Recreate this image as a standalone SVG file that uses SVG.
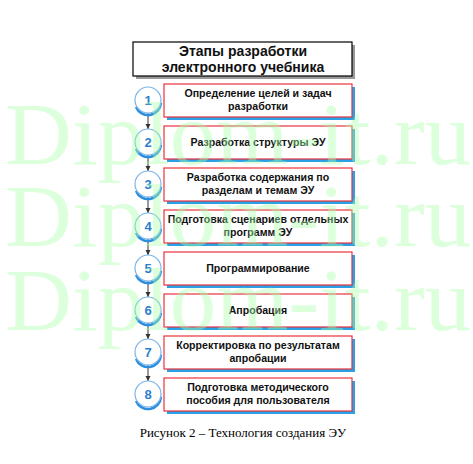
<svg xmlns="http://www.w3.org/2000/svg" width="473" height="464" viewBox="0 0 473 464">
<defs>
<marker id="arr" markerWidth="6" markerHeight="6" refX="5" refY="3" orient="auto" markerUnits="userSpaceOnUse">
<path d="M0,0.5 L5,3 L0,5.5 z" fill="#333"/>
</marker>
</defs>
<style>
.box{fill:#fff;stroke:#e8323c;stroke-width:1.2}
.sh{fill:#2aa0e6}
.tbox{fill:#fff;stroke:#000;stroke-width:1.2}
.tsh{fill:#999}
.circ{fill:#fff;stroke:#7ab4ea;stroke-width:1.2}
.arc{fill:none;stroke:#2b8fe0;stroke-width:2.5}
.num{font-family:"Liberation Sans",Arial,sans-serif;font-weight:bold;font-size:13px;fill:#2b7fcf;text-anchor:middle}
.lbl{font-family:"Liberation Sans",Arial,sans-serif;font-weight:bold;font-size:10.6px;fill:#111;text-anchor:middle}
.ttl{font-family:"Liberation Sans",Arial,sans-serif;font-weight:bold;font-size:14px;fill:#111;text-anchor:middle}
.cap{font-family:"Liberation Serif","Times New Roman",serif;font-size:13px;fill:#000;text-anchor:middle}
.wm{font-family:"Liberation Serif","Times New Roman",serif;font-size:88px;fill:#aaffaa;opacity:0.4}
.con{stroke:#333;stroke-width:1;fill:none}
</style>
<rect width="473" height="464" fill="#fff"/>
<g id="title">
<rect class="tsh" x="136" y="45" width="219" height="34"/>
<rect class="tbox" x="133" y="42" width="219" height="34"/>
<text class="ttl" x="243" y="56">Этапы разработки</text>
<text class="ttl" x="243" y="72">электронного учебника</text>
</g>
<g id="connectors">
<line class="con" x1="148" y1="113" x2="148" y2="129" marker-end="url(#arr)"/>
<line class="con" x1="148" y1="155" x2="148" y2="171" marker-end="url(#arr)"/>
<line class="con" x1="148" y1="197" x2="148" y2="213" marker-end="url(#arr)"/>
<line class="con" x1="148" y1="239" x2="148" y2="255" marker-end="url(#arr)"/>
<line class="con" x1="148" y1="281" x2="148" y2="297" marker-end="url(#arr)"/>
<line class="con" x1="148" y1="323" x2="148" y2="339" marker-end="url(#arr)"/>
<line class="con" x1="148" y1="365" x2="148" y2="381" marker-end="url(#arr)"/>
</g>
<g id="step1">
<rect class="sh" x="167" y="87" width="188" height="33"/>
<rect class="box" x="164" y="84" width="188" height="33"/>
<path class="arc" d="M136,107 A13,13 0 0 0 161,103"/>
<circle class="circ" cx="148" cy="100" r="13"/>
<text class="num" x="148" y="105">1</text>
<text class="lbl" x="258" y="97">Определение целей и задач</text>
<text class="lbl" x="258" y="110">разработки</text>
</g>
<g id="step2">
<rect class="sh" x="167" y="129" width="188" height="33"/>
<rect class="box" x="164" y="126" width="188" height="33"/>
<path class="arc" d="M136,149 A13,13 0 0 0 161,145"/>
<circle class="circ" cx="148" cy="142" r="13"/>
<text class="num" x="148" y="147">2</text>
<text class="lbl" x="258" y="146">Разработка структуры ЭУ</text>
</g>
<g id="step3">
<rect class="sh" x="167" y="171" width="188" height="33"/>
<rect class="box" x="164" y="168" width="188" height="33"/>
<path class="arc" d="M136,191 A13,13 0 0 0 161,187"/>
<circle class="circ" cx="148" cy="184" r="13"/>
<text class="num" x="148" y="189">3</text>
<text class="lbl" x="258" y="181">Разработка содержания по</text>
<text class="lbl" x="258" y="194">разделам и темам ЭУ</text>
</g>
<g id="step4">
<rect class="sh" x="167" y="213" width="188" height="33"/>
<rect class="box" x="164" y="210" width="188" height="33"/>
<path class="arc" d="M136,233 A13,13 0 0 0 161,229"/>
<circle class="circ" cx="148" cy="226" r="13"/>
<text class="num" x="148" y="231">4</text>
<text class="lbl" x="258" y="223">Подготовка сценариев отдельных</text>
<text class="lbl" x="258" y="236">программ ЭУ</text>
</g>
<g id="step5">
<rect class="sh" x="167" y="255" width="188" height="33"/>
<rect class="box" x="164" y="252" width="188" height="33"/>
<path class="arc" d="M136,275 A13,13 0 0 0 161,271"/>
<circle class="circ" cx="148" cy="268" r="13"/>
<text class="num" x="148" y="273">5</text>
<text class="lbl" x="258" y="272">Программирование</text>
</g>
<g id="step6">
<rect class="sh" x="167" y="297" width="188" height="33"/>
<rect class="box" x="164" y="294" width="188" height="33"/>
<path class="arc" d="M136,317 A13,13 0 0 0 161,313"/>
<circle class="circ" cx="148" cy="310" r="13"/>
<text class="num" x="148" y="315">6</text>
<text class="lbl" x="258" y="314">Апробация</text>
</g>
<g id="step7">
<rect class="sh" x="167" y="339" width="188" height="33"/>
<rect class="box" x="164" y="336" width="188" height="33"/>
<path class="arc" d="M136,359 A13,13 0 0 0 161,355"/>
<circle class="circ" cx="148" cy="352" r="13"/>
<text class="num" x="148" y="357">7</text>
<text class="lbl" x="258" y="349">Корректировка по результатам</text>
<text class="lbl" x="258" y="362">апробации</text>
</g>
<g id="step8">
<rect class="sh" x="167" y="381" width="188" height="33"/>
<rect class="box" x="164" y="378" width="188" height="33"/>
<path class="arc" d="M136,401 A13,13 0 0 0 161,397"/>
<circle class="circ" cx="148" cy="394" r="13"/>
<text class="num" x="148" y="399">8</text>
<text class="lbl" x="258" y="391">Подготовка методического</text>
<text class="lbl" x="258" y="404">пособия для пользователя</text>
</g>
<g id="watermark">
<text class="wm" x="5" y="164" textLength="466" lengthAdjust="spacingAndGlyphs">Diplom-it.ru</text>
<text class="wm" x="5" y="246" textLength="466" lengthAdjust="spacingAndGlyphs">Diplom-it.ru</text>
<text class="wm" x="5" y="330" textLength="466" lengthAdjust="spacingAndGlyphs">Diplom-it.ru</text>
</g>
<text class="cap" x="243" y="437">Рисунок 2 – Технология создания ЭУ</text>
</svg>
